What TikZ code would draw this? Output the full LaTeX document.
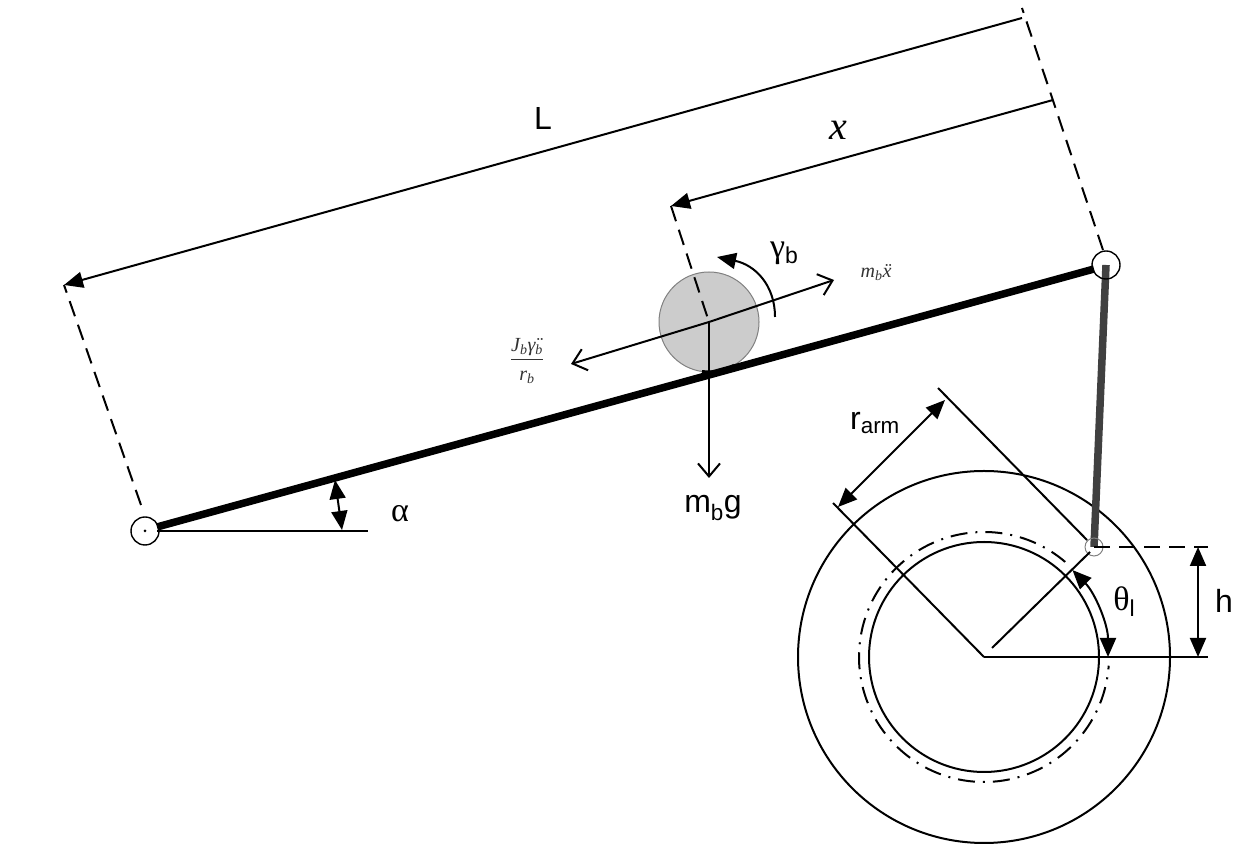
\documentclass[tikz,border=0pt]{standalone}
\usepackage{fontspec}
\setmainfont{Liberation Sans}
\newfontfamily\greekfont{Liberation Serif}
\usetikzlibrary{arrows.meta}
\newcommand{\lowsub}[1]{\raisebox{-6pt}{\fontsize{23}{25}\selectfont #1}}
\tikzset{
	thin line/.style={line width=2pt},
	dim line/.style={thin line,-{Triangle[length=19pt,width=16pt]}},
	dim both/.style={thin line,{Triangle[length=19pt,width=16pt]}-{Triangle[length=19pt,width=16pt]}},
	force line/.style={thin line,-{Straight Barb[length=13pt,width=22pt]}},
	guide line/.style={thin line,dash pattern=on 16pt off 9pt},
	label/.style={font=\fontsize{32}{34}\selectfont,inner sep=0pt},
	greek label/.style={font=\fontsize{34}{36}\selectfont,inner sep=0pt},
	small label/.style={font=\fontsize{20}{22}\selectfont\greekfont\itshape,inner sep=0pt,text=black!80}
}
\begin{document}
\begin{tikzpicture}[x=1pt,y=1pt]
		\useasboundingbox (0,0) rectangle (1246,850);
		\coordinate (hinge) at (145,319);
		\coordinate (beamend) at (1106,585);
		\coordinate (crank) at (1094,303);
		\coordinate (ball) at (709,528);
		\coordinate (wheel) at (984,193);
		\coordinate (beamA) at (157,323);
		\coordinate (beamB) at (1094,581);
		\coordinate (flatA) at (157,319);
		\coordinate (flatB) at (368,319);
		\coordinate (alphaA) at (335,370);
		\coordinate (alphaB) at (342,320);
		\coordinate (Ltop) at (1022,832);
		\coordinate (Lend) at (64,565);
		\coordinate (Lfoot) at (141,345);
		\coordinate (Lguide) at (1022,842);
		\coordinate (Lbase) at (1103,600);
		\coordinate (xtop) at (1053,750);
		\coordinate (xend) at (671,644);
		\coordinate (forceR) at (834,570);
		\coordinate (forceL) at (571,486);
		\coordinate (forceG) at (709,372);
		\coordinate (spinA) at (775,533);
		\coordinate (spinB) at (717,593);
		\coordinate (armA) at (938,462);
		\coordinate (armB) at (833,347);
		\coordinate (armC) at (945,450);
		\coordinate (armD) at (838,343);
		\coordinate (armE) at (1087,310);
		\coordinate (armF) at (992,202);
		\coordinate (armG) at (1090,298);
		\coordinate (levelA) at (1208,193);
		\coordinate (levelB) at (1208,303);
		\coordinate (hA) at (1198,303);
		\coordinate (hB) at (1198,193);

		\draw[thin line] (wheel) circle (186);
		\draw[thin line] (wheel) circle (115);
		\draw[thin line,dash pattern=on 17pt off 8pt on 2pt off 8pt]
		(wheel) ++(49.5:125) arc (49.5:356:125);

		\filldraw[fill=black!20,draw=black!50,line width=1pt] (ball) circle (50);
		\draw[line width=7.5pt] (beamA) -- (beamB);
		\draw[line width=3pt] (ball) ++(262:50) arc (262:300:50);
		\draw[line width=7.5pt,black!75] (beamend) -- (crank);
		\draw[line width=1.4pt] (hinge) circle (14);
		\draw[line width=1.4pt] (beamend) circle (14);
		\draw[line width=1pt,black!50] (crank) circle (9);
		\fill (hinge) circle (1.5);

		\draw[thin line] (flatA) -- (flatB);
		\draw[dim both] (alphaA) -- (alphaB);
		\draw[guide line] (Lfoot) -- (Lend);
		\draw[guide line] (Lbase) -- (Lguide);
		\draw[dim line] (Ltop) -- (Lend);
		\draw[dim line] (xtop) -- (xend);
		\draw[guide line] (xend) -- (ball);

		\draw[force line] (ball) -- (forceR);
		\draw[force line] (ball) -- (forceL);
		\draw[force line] (ball) -- (forceG);
		\draw[dim line] (spinA) .. controls (775,565) and (755,585) .. (spinB);

		\draw[thin line] (armA) -- (armE);
		\draw[thin line] (armB) -- (wheel);
		\draw[thin line] (armF) -- (armG);
		\draw[dim both] (armC) -- (armD);
		\draw[thin line] (wheel) -- (levelA);
		\draw[guide line] (crank) -- (levelB);
		\draw[dim both] (hA) -- (hB);
		\draw[dim both] (wheel) ++(44.5:124) arc (44.5:0:124);

		\node[label] (Llabel) at (543,731) {L};
		\node[inner sep=0pt,font=\fontsize{40}{42}\selectfont\greekfont\itshape] (xlabel) at (838,720) {x};
		\node[greek label] (gammalabel) at (784,597) {{\greekfont γ}\lowsub{b}};
		\node[greek label] (alphalabel) at (400,336) {{\greekfont α}};
		\node[greek label] (thetalabel) at (1124,248) {{\greekfont θ}\lowsub{l}};
		\node[label] (hlabel) at (1224,249) {h};
		\node[label] (rarmlabel) at (875,427) {r\textsubscript{arm}};
		\node[label] (mglabel) at (713,342) {m\textsubscript{b}g};
		\node[small label] (malabel) at (876,577) {m\textsubscript{b}ẍ};
		\node[small label] (jlabel) at (527,489) {$\mbox{\rule[-6pt]{0pt}{20pt}J\textsubscript{b}γ̈\textsubscript{b}}\above1pt\mbox{\rule{0pt}{20pt}r\textsubscript{b}}$};
\end{tikzpicture}
\end{document}
